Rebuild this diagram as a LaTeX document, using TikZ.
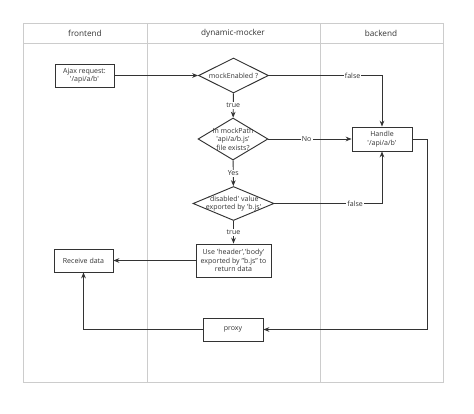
\documentclass[tikz,border=0pt]{standalone}
\usepackage{fontspec}
\setmainfont{Open Sans}
\usepackage{xcolor}
\usepackage{tikz}
\usetikzlibrary{shapes.geometric, arrows.meta}
\definecolor{linegray}{HTML}{333333}
\definecolor{framegray}{HTML}{CCCCCC}
\newcommand{\sq}{\textquotesingle}

\begin{document}
\begin{tikzpicture}[x=0.03cm, y=-0.03cm]
      \tikzstyle{lane} = [draw=framegray, line width=0.7pt]
      \tikzstyle{head} = [text=linegray, font=\fontsize{7}{8}\selectfont]
      \tikzstyle{box} = [rectangle, draw=linegray, line width=0.8pt, text=linegray, font=\fontsize{6}{7.2}\selectfont, align=center, inner sep=0pt]
      \tikzstyle{decision} = [diamond, draw=linegray, line width=0.8pt, inner sep=0pt]
      \tikzstyle{every label} = [text=linegray, font=\fontsize{6}{7.2}\selectfont, align=center, inner sep=0pt]
      \tikzstyle{edge} = [->, draw=linegray, line width=0.8pt, >={Stealth[length=5pt, width=4pt]}]
      \tikzstyle{cond} = [fill=white, text=linegray, font=\fontsize{6}{7.2}\selectfont, inner sep=1pt]

      \useasboundingbox (0,0) rectangle (474,413);

      % swimlanes
      \draw[lane] (23,23) rectangle (443,382);
      \draw[lane] (23,43) -- (443,43);
      \draw[lane] (147,23) -- (147,382);
      \draw[lane] (320,23) -- (320,382);
      \node[head] (hfront) at (85,33) {frontend};
      \node[head] (hmock) at (233,33) {dynamic-mocker};
      \node[head] (hback) at (381,33) {backend};

      % nodes
      \node[box, minimum width=1.77cm, minimum height=0.69cm] (ajax) at (84.5,75.5) {Ajax request:\\\sq/api/a/b\sq};
      \node[decision, minimum width=2.1cm, minimum height=1.05cm, label=center:{mockEnabled ?}] (enabled) at (233.5,75.5) {};
      \node[decision, minimum width=2.1cm, minimum height=1.26cm, label=center:{In mockPath\\\sq api/a/b.js\sq\\file exists?}] (exists) at (233,139) {};
      \node[decision, minimum width=2.43cm, minimum height=1.02cm, label=center:{\sq disabled\sq{} value\\exported by \sq b.js\sq}] (disabled) at (233.5,203.5) {};
      \node[box, minimum width=1.8cm, minimum height=0.72cm] (handle) at (382,139) {Handle\\\sq/api/a/b\sq};
      \node[box, minimum width=2.25cm, minimum height=0.99cm] (use) at (233.5,260.5) {Use \sq header\sq,\sq body\sq\\exported by "b.js" to\\return data};
      \node[box, minimum width=1.77cm, minimum height=0.69cm] (receive) at (83.5,260.5) {Receive data};
      \node[box, minimum width=1.8cm, minimum height=0.69cm] (proxy) at (233,329.5) {proxy};

      % connectors
      \draw[edge] (ajax) -- (enabled);
      \draw[edge] (enabled) -- node[cond] {true} (exists);
      \draw[edge] (enabled) -| node[cond, pos=0.37] {false} (handle);
      \draw[edge] (exists) -- node[cond, pos=0.46] {No} (handle);
      \draw[edge] (exists) -- node[cond] {Yes} (disabled);
      \draw[edge] (disabled) -| node[cond, pos=0.375] {false} (handle);
      \draw[edge] (disabled) -- node[cond] {true} (use);
      \draw[edge] (use) -- (receive);
      \draw[edge] (handle.east) -- ++(15,0) |- (proxy.east);
      \draw[edge] (proxy.west) -| (receive.south);
    \end{tikzpicture}
\end{document}
